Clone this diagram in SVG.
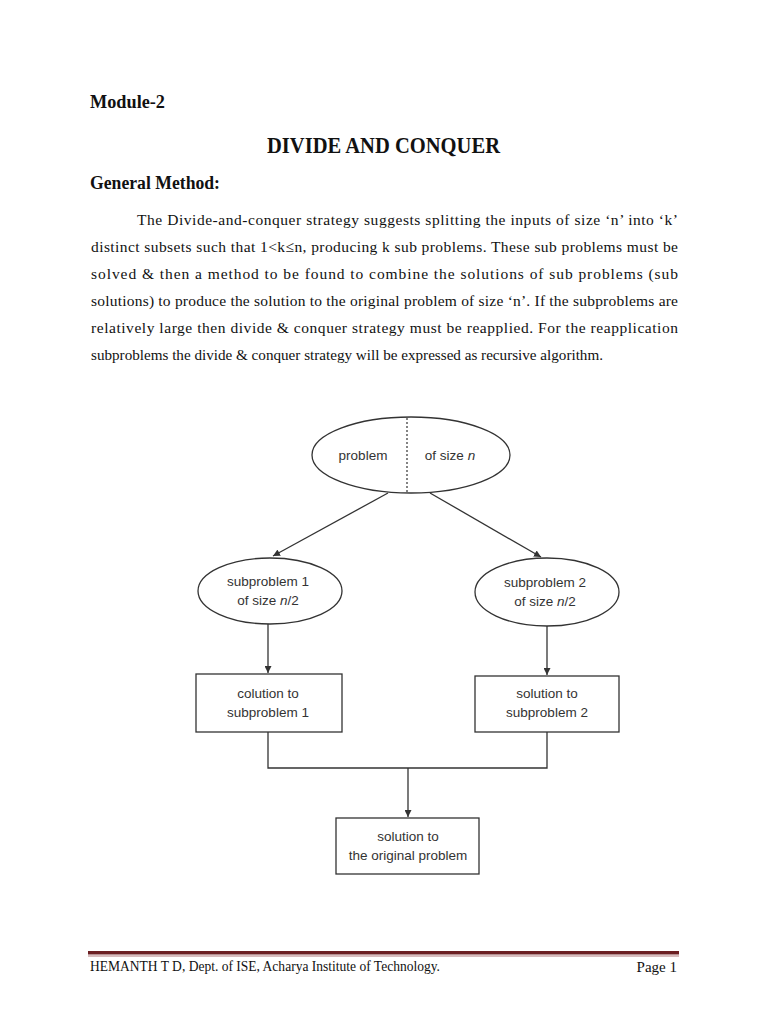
<svg xmlns="http://www.w3.org/2000/svg" width="768" height="1024" viewBox="0 0 768 1024">
<style>
.h{font-family:"Liberation Serif","DejaVu Serif",serif;font-weight:bold;fill:#111}
.p{font-family:"Liberation Serif","DejaVu Serif",serif;font-size:15.5px;fill:#111}
.d{font-family:"Liberation Sans","Arial",sans-serif;font-size:13.5px;fill:#333;text-anchor:middle}
.shape{fill:#fff;stroke:#333;stroke-width:1.3}
.conn{fill:none;stroke:#333;stroke-width:1.3}
.f{font-family:"Liberation Serif","DejaVu Serif",serif;font-size:15px;fill:#111}
</style>
<defs>
<marker id="ah" viewBox="0 0 10 10" refX="10" refY="5" markerWidth="7" markerHeight="7" orient="auto" markerUnits="userSpaceOnUse">
<path d="M0,0 L10,5 L0,10 z" fill="#333"/>
</marker>
</defs>
<rect width="768" height="1024" fill="#fff"/>

<text class="h" x="90" y="108" font-size="18" textLength="75" lengthAdjust="spacingAndGlyphs">Module-2</text>
<text class="h" x="267" y="153" font-size="23" textLength="233" lengthAdjust="spacingAndGlyphs">DIVIDE AND CONQUER</text>
<text class="h" x="90" y="189" font-size="18" textLength="130" lengthAdjust="spacingAndGlyphs">General Method:</text>

<g id="paragraph">
<text class="p" x="137" y="225" textLength="541" lengthAdjust="spacing">The Divide-and-conquer strategy suggests splitting the inputs of size ‘n’ into ‘k’</text>
<text class="p" x="91" y="252" textLength="587" lengthAdjust="spacing">distinct subsets such that 1&lt;k≤n, producing k sub problems. These sub problems must be</text>
<text class="p" x="91" y="279" textLength="587" lengthAdjust="spacing">solved &amp; then a method to be found to combine the solutions of sub problems (sub</text>
<text class="p" x="91" y="306" textLength="587" lengthAdjust="spacing">solutions) to produce the solution to the original problem of size ‘n’. If the subproblems are</text>
<text class="p" x="91" y="333" textLength="587" lengthAdjust="spacing">relatively large then divide &amp; conquer strategy must be reapplied. For the reapplication</text>
<text class="p" x="91" y="360" textLength="512" lengthAdjust="spacingAndGlyphs">subproblems the divide &amp; conquer strategy will be expressed as recursive algorithm.</text>
</g>

<g id="connectors">
<line class="conn" x1="388" y1="493" x2="273" y2="556" marker-end="url(#ah)"/>
<line class="conn" x1="430" y1="493" x2="541" y2="557" marker-end="url(#ah)"/>
<line class="conn" x1="268" y1="624" x2="268" y2="673" marker-end="url(#ah)"/>
<line class="conn" x1="547" y1="626" x2="547" y2="675" marker-end="url(#ah)"/>
<polyline class="conn" points="268,732 268,768 547,768 547,732"/>
<line class="conn" x1="408" y1="768" x2="408" y2="817" marker-end="url(#ah)"/>
</g>

<g id="problem">
<ellipse class="shape" cx="411" cy="455" rx="99" ry="38"/>
<line x1="407" y1="418" x2="407" y2="493" stroke="#333" stroke-width="1.2" stroke-dasharray="2,2"/>
<text class="d" x="363" y="460">problem</text>
<text class="d" x="450" y="460">of size <tspan font-style="italic">n</tspan></text>
</g>

<g id="sub1">
<ellipse class="shape" cx="270" cy="591" rx="72" ry="33"/>
<text class="d" x="268" y="586">subproblem 1</text>
<text class="d" x="268" y="605">of size <tspan font-style="italic">n</tspan>/2</text>
</g>

<g id="sub2">
<ellipse class="shape" cx="547" cy="592" rx="72" ry="34"/>
<text class="d" x="545" y="587">subproblem 2</text>
<text class="d" x="545" y="606">of size <tspan font-style="italic">n</tspan>/2</text>
</g>

<g id="sol1">
<rect class="shape" x="196" y="674" width="146" height="58"/>
<text class="d" x="268" y="698">colution to</text>
<text class="d" x="268" y="717">subproblem 1</text>
</g>

<g id="sol2">
<rect class="shape" x="475" y="676" width="144" height="56"/>
<text class="d" x="547" y="698">solution to</text>
<text class="d" x="547" y="717">subproblem 2</text>
</g>

<g id="final">
<rect class="shape" x="336" y="818" width="143" height="56"/>
<text class="d" x="408" y="841">solution to</text>
<text class="d" x="408" y="860">the original problem</text>
</g>

<g id="footer">
<rect x="88" y="951" width="591" height="3.5" fill="#6b1f22"/>
<rect x="88" y="955.5" width="591" height="1" fill="#b07a7c"/>
<text class="f" x="90" y="971" textLength="350" lengthAdjust="spacingAndGlyphs">HEMANTH T D, Dept. of ISE, Acharya Institute of Technology.</text>
<text class="f" x="677" y="972" text-anchor="end">Page 1</text>
</g>
</svg>
